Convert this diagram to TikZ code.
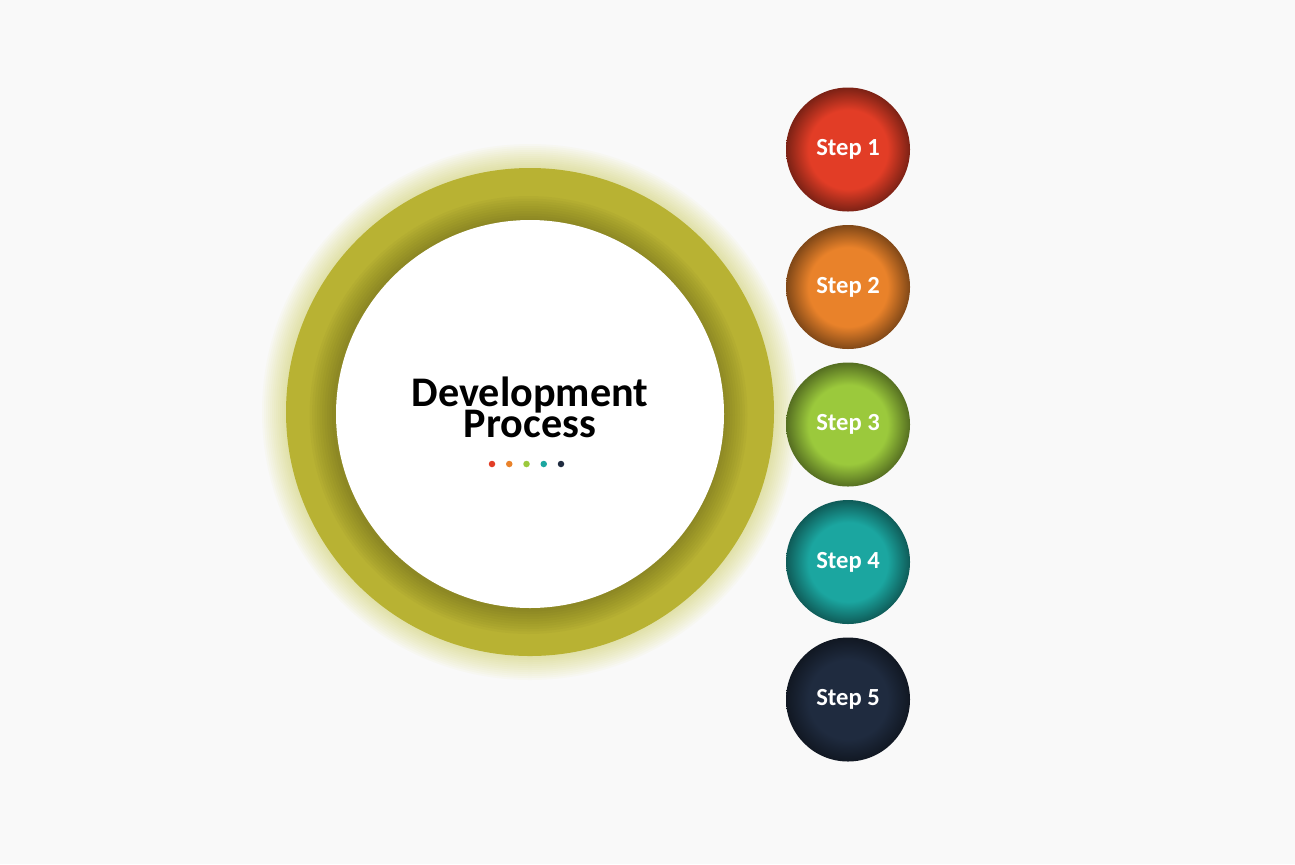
\documentclass[tikz,border=0pt]{standalone}
\usepackage{fontspec}
\setmainfont{Carlito}
\usetikzlibrary{shapes.geometric}
\definecolor{paper}{HTML}{F9F9F9}
\definecolor{ringolive}{HTML}{B8B233}
\definecolor{sred}{HTML}{E23D26}
\definecolor{sorange}{HTML}{E9822A}
\definecolor{sgreen}{HTML}{9BC93C}
\definecolor{steal}{HTML}{1BA6A0}
\definecolor{snavy}{HTML}{1F2B3F}
\colorlet{stagein}{sred}
\colorlet{stageout}{sred!55!black}
\newcommand{\titlefont}{\bfseries\fontsize{24}{17.6}\selectfont\lineskiplimit=-20pt\relax}
\pgfdeclareradialshading[stagein,stageout]{stageball}{\pgfpoint{0bp}{0bp}}{color(0bp)=(stagein); color(16bp)=(stagein); color(25bp)=(stageout); color(50bp)=(stageout)}
\tikzstyle{stage} = [circle, minimum size=2.48cm, inner sep=0pt, text=white, font=\bfseries\fontsize{14}{16}\selectfont, shade, shading=stageball]
\tikzstyle{title} = [align=center, font=\titlefont]
\tikzset{tint/.style={/utils/exec={\colorlet{stagein}{#1}\colorlet{stageout}{#1!55!black}}}}

\begin{document}
\begin{tikzpicture}[node distance = 2.75cm]
        \fill[paper] (0,0) rectangle (25.9,-17.28);
        \useasboundingbox (0,0) rectangle (25.9,-17.28);
        % glow and ring
        \foreach \k in {12,11,...,1}
            \fill[ringolive!80!yellow, opacity=0.035] (10.6,-8.24) circle ({4.88+0.04*\k});
        \node (ring) [circle, fill=ringolive, minimum size=9.76cm, inner sep=0pt] at (10.6,-8.24) {};
        \foreach \k in {10,9,...,1}
            \fill[black, opacity=0.025] (10.57,-8.3) circle ({3.88+0.05*\k});
        \node (core) [circle, fill=white, minimum size=7.76cm, inner sep=0pt] at (10.6,-8.28) {};
        \node (name) [title] at (10.6,-8.14) {Development\\Process};
        \foreach \c [count=\i] in {sred, sorange, sgreen, steal, snavy}
            \fill[\c] ({9.84+0.345*(\i-1)},-9.28) circle (0.065);

        \node (stepone) [stage, tint=sred] at (16.96,-2.99) {Step 1};
        \node (steptwo) [stage, tint=sorange, below of = stepone] {Step 2};
        \node (stepthree) [stage, tint=sgreen, below of = steptwo] {Step 3};
        \node (stepfour) [stage, tint=steal, below of = stepthree] {Step 4};
        \node (stepfive) [stage, tint=snavy, below of = stepfour] {Step 5};

    \end{tikzpicture}
\end{document}
